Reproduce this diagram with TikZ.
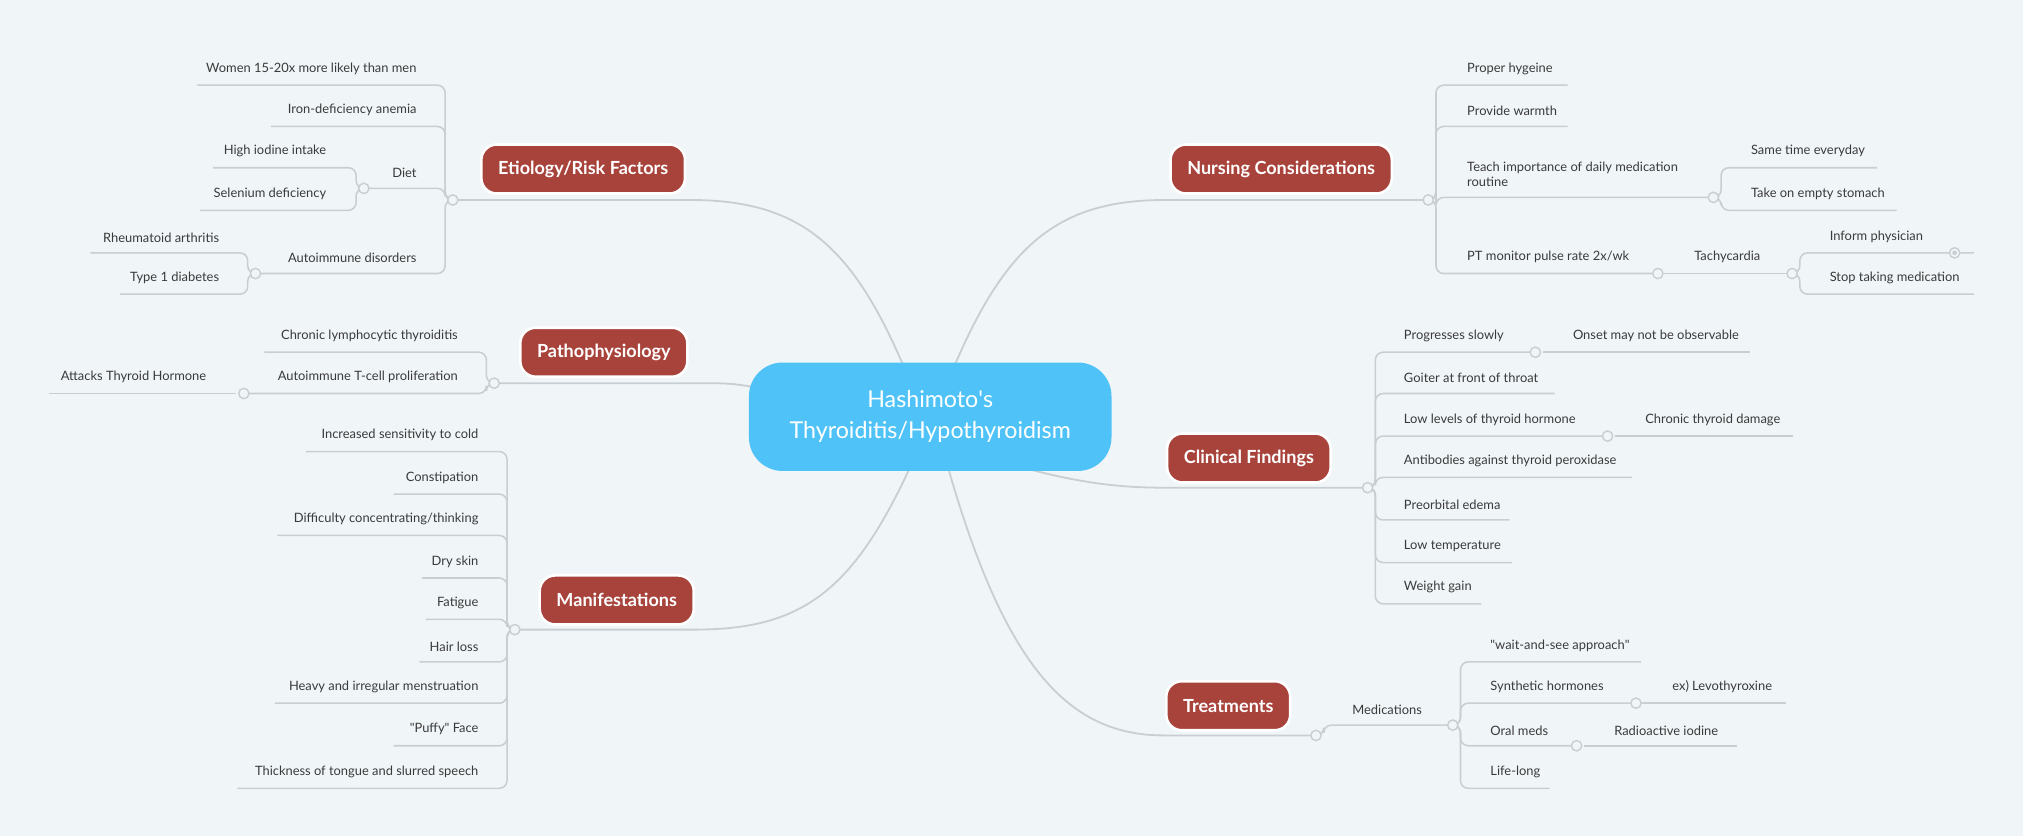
\documentclass[tikz,border=0pt]{standalone}
\usepackage{fontspec}
\setmainfont{Lato}
\definecolor{bg}{HTML}{F0F5F8}
\definecolor{ln}{HTML}{C9CED2}
\definecolor{tx}{HTML}{3A3A3A}
\definecolor{cen}{HTML}{4FC3F7}
\definecolor{br}{HTML}{A8433B}
\tikzset{
 conn/.style={draw=ln,line width=1.2pt,rounded corners=6pt},
 lt/.style={inner xsep=0pt,inner ysep=8pt,text=tx,font=\fontsize{10}{12}\selectfont,align=left},
 jc/.style={circle,draw=ln,fill=bg,line width=1.1pt,minimum size=8pt,inner sep=0pt},
 brn/.style={rounded corners=12pt,fill=br,draw=white,line width=2pt,text=white,font=\bfseries\fontsize{14}{16}\selectfont,minimum height=38pt,inner xsep=13pt},
 mainc/.style={draw=ln,line width=1.4pt}
}
\newcommand\LL[7]{\node[lt,anchor=south east] (#1) at (#3,#5) {#2};\draw[conn] (#4,#5) -- (#6,#5) -- (#6,#7) -- (#6+6,#7);}
\newcommand\RL[7]{\node[lt,anchor=south west] (#1) at (#3,#5) {#2};\draw[conn] (#4,#5) -- (#6,#5) -- (#6,#7) -- (#6-6,#7);}
\newcommand\LS[5]{\node[lt,anchor=south east] (#1) at (#3,#5) {#2};\draw[conn] (#4,#5) -- (#3+23,#5);}
\newcommand\RS[5]{\node[lt,anchor=south west] (#1) at (#3,#5) {#2};\draw[conn] (#4,#5) -- (#3-23,#5);}
\begin{document}
\begin{tikzpicture}[x=1pt,y=-1pt]
\fill[bg] (0,0) rectangle (1568,648);
\useasboundingbox (0,0) rectangle (1568,648);
% main curves
\draw[mainc] (700,283) .. controls (660,190) and (620,155) .. (535,155) -- (351,155);
\draw[mainc] (740,283) .. controls (780,190) and (820,155) .. (903,155) -- (1107,155);
\draw[mainc] (585,300) .. controls (565,297) .. (537,297) -- (383,297);
\draw[mainc] (705,363) .. controls (660,460) and (620,488) .. (538,488) -- (399,488);
\draw[mainc] (795,363) .. controls (840,375) and (870,378) .. (903,378) -- (1060,378);
\draw[mainc] (735,363) .. controls (780,520) and (830,570) .. (902,570) -- (1020,570);
% Etiology
\LL{e1}{Women 15-20x more likely than men}{323}{153}{66}{345}{155}
\LL{e2}{Iron-deficiency anemia}{323}{210}{98}{345}{155}
\LL{e3}{Diet}{323}{282}{146}{345}{155}
\LL{e31}{High iodine intake}{253}{165}{130}{276}{146}
\LL{e32}{Selenium deficiency}{253}{155}{163}{276}{146}
\LL{e4}{Autoimmune disorders}{323}{198}{212}{345}{155}
\LL{e41}{Rheumatoid arthritis}{170}{70}{196}{192}{212}
\LL{e42}{Type 1 diabetes}{170}{93}{228}{192}{212}
\node[jc] (je) at (351,155) {};\node[jc] (je3) at (282,146) {};\node[jc] (je4) at (198,212) {};
% Patho
\LL{p1}{Chronic lymphocytic thyroiditis}{355}{205}{273}{377}{297}
\LL{p2}{Autoimmune T-cell proliferation}{355}{189}{305}{377}{297}
\LS{p21}{Attacks Thyroid Hormone}{160}{38}{305}
\node[jc] (jp) at (383,297) {};\node[jc] (jp2) at (189,305) {};
% Manifestations
\LL{m1}{Increased sensitivity to cold}{371}{237}{350}{393}{488}
\LL{m2}{Constipation}{371}{305}{383}{393}{488}
\LL{m3}{Difficulty concentrating/thinking}{371}{215}{415}{393}{488}
\LL{m4}{Dry skin}{371}{327}{448}{393}{488}
\LL{m5}{Fatigue}{371}{330}{480}{393}{488}
\LL{m6}{Hair loss}{371}{325}{513}{393}{488}
\LL{m7}{Heavy and irregular menstruation}{371}{213}{545}{393}{488}
\LL{m8}{\textquotedbl Puffy\textquotedbl\ Face}{371}{305}{578}{393}{488}
\LL{m9}{Thickness of tongue and slurred speech}{371}{184}{611}{393}{488}
\node[jc] (jm) at (399,488) {};
% Nursing
\RL{n1}{Proper hygeine}{1137}{1215}{66}{1113}{155}
\RL{n2}{Provide warmth}{1137}{1215}{98}{1113}{155}
\RL{n3}{Teach importance of daily medication\\routine}{1137}{1328}{153}{1113}{155}
\RL{n31}{Same time everyday}{1357}{1455}{130}{1334}{153}
\RL{n32}{Take on empty stomach}{1357}{1470}{163}{1334}{153}
\RL{n4}{PT monitor pulse rate 2x/wk}{1137}{1285}{212}{1113}{155}
\RS{n41}{Tachycardia}{1313}{1389}{212}
\RL{n411}{Inform physician}{1418}{1530}{196}{1395}{212}
\RL{n412}{Stop taking medication}{1418}{1530}{228}{1395}{212}
\node[jc] (jn) at (1107,155) {};\node[jc] (jn3) at (1328,153) {};\node[jc] (jn4) at (1285,212) {};\node[jc] (jn41) at (1389,212) {};
\node[jc] (jn411) at (1515,196) {};\fill[ln] (jn411) circle (1.8pt);
% Clinical
\RL{c1}{Progresses slowly}{1088}{1190}{273}{1066}{378}
\RS{c11}{Onset may not be observable}{1219}{1356}{273}
\RL{c2}{Goiter at front of throat}{1088}{1205}{305}{1066}{378}
\RL{c3}{Low levels of thyroid hormone}{1088}{1246}{338}{1066}{378}
\RS{c31}{Chronic thyroid damage}{1275}{1390}{338}
\RL{c4}{Antibodies against thyroid peroxidase}{1088}{1265}{370}{1066}{378}
\RL{c5}{Preorbital edema}{1088}{1170}{403}{1066}{378}
\RL{c6}{Low temperature}{1088}{1172}{436}{1066}{378}
\RL{c7}{Weight gain}{1088}{1148}{468}{1066}{378}
\node[jc] (jc0) at (1060,378) {};\node[jc] (jc1) at (1190,273) {};\node[jc] (jc3) at (1246,338) {};
% Treatments
\RL{t0}{Medications}{1048}{1126}{562}{1026}{570}
\RL{t1}{\textquotedbl wait-and-see approach\textquotedbl}{1155}{1272}{513}{1132}{562}
\RL{t2}{Synthetic hormones}{1155}{1268}{545}{1132}{562}
\RS{t21}{ex) Levothyroxine}{1296}{1384}{545}
\RL{t3}{Oral meds}{1155}{1222}{578}{1132}{562}
\RS{t31}{Radioactive iodine}{1251}{1346}{578}
\RL{t4}{Life-long}{1155}{1201}{611}{1132}{562}
\node[jc] (jt) at (1020,570) {};\node[jc] (jt0) at (1126,562) {};\node[jc] (jt2) at (1268,545) {};\node[jc] (jt3) at (1222,578) {};
% branch nodes
\node[brn] (B1) at (452,131) {Etiology/Risk Factors};
\node[brn] (B2) at (468,273) {Pathophysiology};
\node[brn] (B3) at (478,465) {Manifestations};
\node[brn] (B4) at (993,131) {Nursing Considerations};
\node[brn] (B5) at (968,355) {Clinical Findings};
\node[brn] (B6) at (952,547) {Treatments};
\node[fill=cen,rounded corners=26pt,minimum width=281pt,minimum height=84pt,text=white,align=center,font=\fontsize{18}{24}\selectfont] (C) at (721,323) {Hashimoto\textquotesingle s\\Thyroiditis/Hypothyroidism};
\end{tikzpicture}
\end{document}
